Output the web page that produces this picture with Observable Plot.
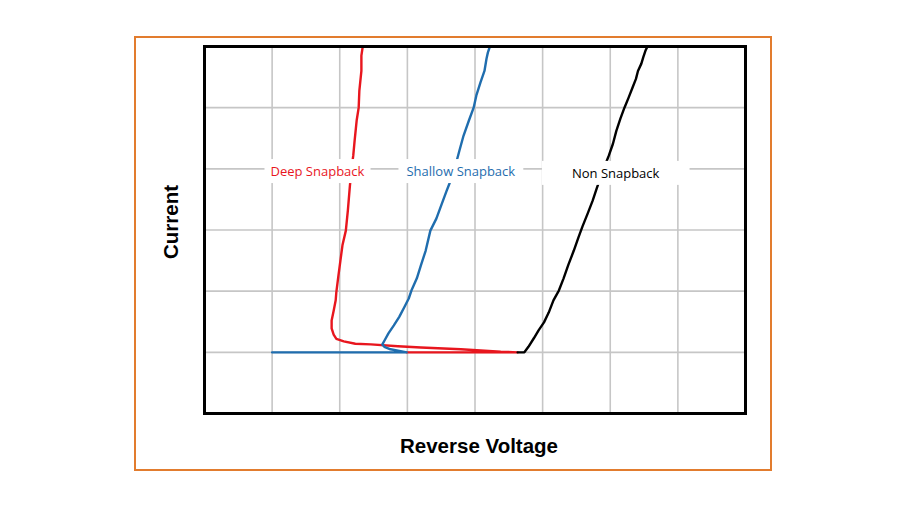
<!DOCTYPE html>
<html>
<head>
<meta charset="utf-8">
<script src="https://cdn.jsdelivr.net/npm/d3@7"></script>
<script src="https://cdn.jsdelivr.net/npm/@observablehq/plot@0.6"></script>
<style>
  html, body { margin: 0; padding: 0; background: #fff; }
  #wrap { position: relative; width: 906px; height: 509px; overflow: hidden; }
  #wrap svg { position: absolute; left: 0; top: 0; }
  #border {
    position: absolute; left: 134px; top: 36px; width: 638px; height: 435px;
    box-sizing: border-box; border: 2px solid #E27C2E; pointer-events: none;
  }
</style>
</head>
<body>
<div id="wrap"><div id="border"></div></div>
<script>
// Reverse I–V traces (x: voltage in grid divisions, y: current in grid divisions)
const deepV = [2.99, 4.63, 4.38, 3.79, 3.2, 2.86, 2.46, 2.23, 2.06, 1.95, 1.91, 1.88, 1.88, 1.91, 1.94, 1.95, 1.98, 2.01, 2.04, 2.09, 2.12, 2.15, 2.18, 2.2, 2.22, 2.25, 2.28, 2.29, 2.32, 2.32, 2.34];
const deepI = [1.0, 1.0, 1.01, 1.05, 1.08, 1.1, 1.13, 1.14, 1.18, 1.22, 1.29, 1.39, 1.52, 1.68, 1.85, 1.99, 2.25, 2.5, 2.75, 2.99, 3.32, 3.72, 4.05, 4.22, 4.46, 4.79, 5.0, 5.28, 5.6, 5.85, 6.0];

const shallowV = [1.0, 2.99, 2.9, 2.75, 2.66, 2.63, 2.66, 2.72, 2.8, 2.88, 2.96, 3.02, 3.06, 3.14, 3.2, 3.27, 3.34, 3.43, 3.51, 3.58, 3.64, 3.71, 3.77, 3.83, 3.91, 3.98, 4.02, 4.08, 4.14, 4.17, 4.19, 4.22];
const shallowI = [1.0, 1.0, 1.02, 1.05, 1.09, 1.13, 1.19, 1.31, 1.44, 1.58, 1.75, 1.88, 2.01, 2.21, 2.42, 2.66, 2.99, 3.19, 3.43, 3.64, 3.81, 4.05, 4.3, 4.54, 4.79, 5.0, 5.2, 5.41, 5.6, 5.8, 5.9, 6.0];

const nonV = [4.63, 4.73, 4.79, 4.87, 4.94, 5.02, 5.09, 5.16, 5.24, 5.31, 5.38, 5.46, 5.53, 5.59, 5.67, 5.74, 5.8, 5.86, 5.92, 5.98, 6.04, 6.09, 6.15, 6.21, 6.27, 6.33, 6.38, 6.41, 6.46, 6.49, 6.52, 6.55];
const nonI = [1.0, 1.0, 1.09, 1.23, 1.36, 1.49, 1.65, 1.85, 2.01, 2.21, 2.43, 2.66, 2.88, 3.06, 3.28, 3.48, 3.68, 3.87, 4.05, 4.22, 4.41, 4.62, 4.82, 5.0, 5.16, 5.33, 5.47, 5.6, 5.72, 5.83, 5.93, 6.0];

// Curve labels and where they sit
const labelText = ["Deep Snapback", "Shallow Snapback", "Non Snapback"];
const labelV = [1.67, 3.79, 6.08];
const labelI = [3.95, 3.95, 3.92];

const gridV = [1, 2, 3, 4, 5, 6, 7];
const gridI = [1, 2, 3, 4, 5];

const colors = { deep: "#E8161E", shallow: "#1F6DAE", non: "#000000" };
const labelColors = [colors.deep, colors.shallow, colors.non];
const labelPad = [6, 8, 30];

const toRows = (V, I) => V.map((v, k) => ({v, i: I[k]}));
const deep = toRows(deepV, deepI);
const shallow = toRows(shallowV, shallowI);
const non = toRows(nonV, nonI);
const labels = labelText.map((t, k) => ({t, v: labelV[k], i: labelI[k], c: labelColors[k]}));

const chart = Plot.plot({
  width: 906,
  height: 509,
  marginLeft: 204,
  marginRight: 161,
  marginTop: 46,
  marginBottom: 96,
  x: {domain: [0, 8], axis: null},
  y: {domain: [0, 6], axis: null},
  style: {background: "transparent"},
  marks: [
    Plot.gridX(gridV, {stroke: "#c6c6c6", strokeOpacity: 1, strokeWidth: 1.6}),
    Plot.gridY(gridI, {stroke: "#c6c6c6", strokeOpacity: 1, strokeWidth: 1.6}),
    Plot.line(deep, {x: "v", y: "i", stroke: colors.deep, strokeWidth: 2.4, curve: "linear"}),
    Plot.line(shallow, {x: "v", y: "i", stroke: colors.shallow, strokeWidth: 2.4, curve: "linear"}),
    Plot.line(non, {x: "v", y: "i", stroke: colors.non, strokeWidth: 2.4, curve: "linear"}),
    Plot.text(labels, {
      x: "v", y: "i", text: "t", fill: "c",
      fontFamily: "Open Sans", fontSize: 13
    }),
    Plot.frame({stroke: "#000", strokeWidth: 3}),
    Plot.text(["Reverse Voltage"], {
      frameAnchor: "bottom", textAnchor: "middle", lineAnchor: "middle", dy: 33, dx: 4,
      fontFamily: "Liberation Sans", fontWeight: "bold", fontSize: 20.5, fill: "#000"
    }),
    Plot.text(["Current"], {
      frameAnchor: "left", textAnchor: "middle", lineAnchor: "middle", rotate: -90, dx: -33, dy: -8,
      fontFamily: "Liberation Sans", fontWeight: "bold", fontSize: 20.5, fill: "#000"
    })
  ]
});

const wrap = document.getElementById("wrap");
wrap.insertBefore(chart, wrap.firstChild);

// White boxes behind the curve labels, hiding the grid and traces underneath
d3.select(chart).selectAll("text")
  .filter(function() { return labelText.includes(this.textContent); })
  .each(function() {
    const k = labelText.indexOf(this.textContent);
    const b = this.getBBox();
    const pad = labelPad[k];
    const t = this.getAttribute("transform");
    d3.select(this.parentNode).insert("rect", () => this)
      .attr("transform", t)
      .attr("x", b.x - pad)
      .attr("y", b.y - 3)
      .attr("width", b.width + 2 * pad)
      .attr("height", b.height + 6)
      .attr("fill", "#fff");
  });
</script>
</body>
</html>
